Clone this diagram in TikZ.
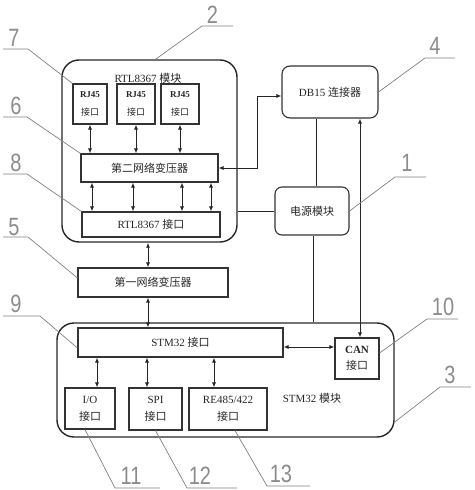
\documentclass[tikz,border=0pt]{standalone}
\usepackage{fontspec}
\setmainfont{Liberation Serif}
\newfontfamily\cjk{Noto Sans CJK SC}
\newfontfamily\numfont{Liberation Sans}
\usetikzlibrary{arrows.meta,calc}
\begin{document}
\begin{tikzpicture}[x=1pt,y=-1pt,
 box/.style={draw=black!80, line width=1.1pt, inner sep=0pt, align=center, font=\fontsize{11}{14}\selectfont, text=black!85},
 module/.style={draw=black!85, line width=1.4pt, rounded corners=17pt, inner sep=0pt},
 rbox/.style={box, rounded corners=8pt},
 lbl/.style={inner sep=0pt, font=\fontsize{11}{14}\selectfont, text=black!85},
 conn/.style={draw=black!85, line width=0.9pt},
 darr/.style={conn, {Latex[length=5pt,width=4pt]}-{Latex[length=5pt,width=4pt]}},
 callout/.style={draw=black!50, line width=0.7pt},
 num/.style={text=black!45, font=\numfont\fontsize{25}{25}\selectfont, inner sep=0pt}
]
\useasboundingbox (0,0) rectangle (474,490);

% ---- RTL8367 module ----
\node[module, minimum width=175pt, minimum height=182pt] (rtlm) at (149.5,151) {};
\node[lbl] (rtltitle) at (148,78) {RTL8367 {\cjk 模块}};
\node[box, minimum width=34pt, minimum height=40pt] (r1) at (90,104) {\textbf{\fontsize{9}{11}\selectfont RJ45}\\[4pt]{\cjk\fontsize{9}{11}\selectfont 接口}};
\node[box, minimum width=38pt, minimum height=40pt] (r2) at (136,104) {\textbf{\fontsize{9}{11}\selectfont RJ45}\\[4pt]{\cjk\fontsize{9}{11}\selectfont 接口}};
\node[box, minimum width=38pt, minimum height=40pt] (r3) at (180,104) {\textbf{\fontsize{9}{11}\selectfont RJ45}\\[4pt]{\cjk\fontsize{9}{11}\selectfont 接口}};
\node[box, minimum width=137pt, minimum height=28pt] (t2) at (149.5,168) {\cjk 第二网络变压器};
\node[box, minimum width=138pt, minimum height=25pt] (rtlif) at (151,224.5) {RTL8367 {\cjk 接口}};

% ---- right side ----
\node[rbox, minimum width=96pt, minimum height=52pt] (db15) at (330,92) {DB15 {\cjk 连接器}};
\node[rbox, minimum width=74pt, minimum height=48pt, rounded corners=7pt] (pwr) at (312,211) {\cjk 电源模块};

% ---- first transformer ----
\node[box, minimum width=150pt, minimum height=29pt] (t1) at (153,282.5) {\cjk 第一网络变压器};

% ---- STM32 module ----
\node[module, minimum width=337pt, minimum height=114pt] (stmm) at (225.5,380) {};
\node[lbl] (stmtitle) at (312,398) {STM32 {\cjk 模块}};
\node[box, minimum width=205pt, minimum height=29pt] (stmif) at (180.5,342.5) {STM32 {\cjk 接口}};
\node[box, minimum width=50pt, minimum height=41pt] (io) at (90,408.5) {I/O\\[3pt]{\cjk 接口}};
\node[box, minimum width=53pt, minimum height=42pt] (spi) at (155.5,409) {SPI\\[3pt]{\cjk 接口}};
\node[box, minimum width=78pt, minimum height=42pt] (re) at (228,409) {RE485/422\\[3pt]{\cjk 接口}};
\node[box, minimum width=44pt, minimum height=41pt] (can) at (357,358.5) {\textbf{CAN}\\[2pt]{\cjk 接口}};

% ---- connectors ----
\foreach \r in {r1,r2,r3} \draw[darr] (\r.south) -- (\r.south |- t2.north);
\coordinate (xa1) at (92,0);
\coordinate (xa2) at (133,0);
\coordinate (xa3) at (182,0);
\coordinate (xa4) at (211,0);
\foreach \c in {xa1,xa2,xa3,xa4} \draw[darr] (t2.south -| \c) -- (rtlif.north -| \c);
\coordinate (xm) at (148,0);
\draw[darr] (rtlm.south -| xm) -- (t1.north -| xm);
\draw[darr] (t1.south -| xm) -- (stmif.north -| xm);
\coordinate (xb1) at (97,0);
\coordinate (xb2) at (147,0);
\coordinate (xb3) at (214,0);
\draw[darr] (stmif.south -| xb1) -- (io.north -| xb1);
\draw[darr] (stmif.south -| xb2) -- (spi.north -| xb2);
\draw[darr] (stmif.south -| xb3) -- (re.north -| xb3);
\coordinate (yc) at (0,347);
\draw[darr] (stmif.east |- yc) -- (can.west |- yc);
\coordinate (k1) at (257,168);
\coordinate (k2) at (257,96);
\draw[darr] (t2.east |- k1) -- (k1) -- (k2) -- (db15.west |- k2);
\draw[conn] (rtlm.east |- pwr.west) -- (pwr.west);
\coordinate (xp) at (316,0);
\draw[conn] (db15.south -| xp) -- (pwr.north -| xp);
\coordinate (xq) at (313,0);
\draw[conn] (pwr.south -| xq) -- (stmm.north -| xq);
\coordinate (xc) at (360,0);
\draw[darr] (can.north -| xc) -- (db15.south -| xc);

% ---- callouts ----
\node[num] (n2) at (212.5,15) {\scalebox{0.8}[1]{2}};
\draw[callout] ($(rtlm.north)+(6,0)$) -- (202,26) -- (233,26);
\node[num] (n7) at (14,38) {\scalebox{0.8}[1]{7}};
\draw[callout] (r1.north west) -- (28,49) -- (3,49);
\node[num] (n6) at (16,106) {\scalebox{0.8}[1]{6}};
\draw[callout] (t2.north west) -- (27,117) -- (3,117);
\node[num] (n8) at (16,163) {\scalebox{0.8}[1]{8}};
\draw[callout] (rtlif.north west) -- (27,174) -- (3,174);
\node[num] (n5) at (14,227) {\scalebox{0.8}[1]{5}};
\draw[callout] ($(t1.west)+(0,-4.5)$) -- (28,237) -- (3,237);
\node[num] (n9) at (16,304) {\scalebox{0.8}[1]{9}};
\draw[callout] ($(stmif.west)+(0,5.5)$) -- (40,316) -- (3,316);
\node[num] (n11) at (131,476) {\scalebox{0.8}[1]{11}};
\draw[callout] ($(io.south)+(-5,0)$) -- (115,488) -- (160,488);
\node[num] (n12) at (200,476) {\scalebox{0.8}[1]{12}};
\draw[callout] ($(spi.south)+(0,0)$) -- (187,488) -- (237,488);
\node[num] (n13) at (281,474) {\scalebox{0.8}[1]{13}};
\draw[callout] ($(re.south)+(7,0)$) -- (267,486) -- (310,486);
\node[num] (n10) at (443,307) {\scalebox{0.8}[1]{10}};
\draw[callout] ($(can.east)+(0,-5.5)$) -- (427,319) -- (458,319);
\node[num] (n3) at (450,375) {\scalebox{0.8}[1]{3}};
\draw[callout] ($(stmm.east)+(0,42)$) -- (440,387) -- (471,387);
\node[num] (n4) at (435,46) {\scalebox{0.8}[1]{4}};
\draw[callout] (db15.east) -- (425,58) -- (455,58);
\node[num] (n1) at (407,163) {\scalebox{0.8}[1]{1}};
\draw[callout] (pwr.east) -- (395,177) -- (426,177);
\end{tikzpicture}
\end{document}
